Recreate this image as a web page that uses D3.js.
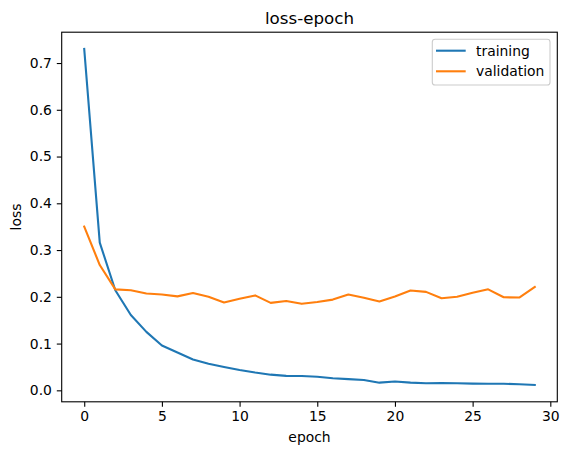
<!DOCTYPE html>
<html>
<head>
<meta charset="utf-8">
<script src="https://cdn.jsdelivr.net/npm/d3@7"></script>
<style>
body { margin: 0; background: #fff; }
svg { display: block; font-family: "DejaVu Sans", sans-serif; }
</style>
</head>
<body>
<svg></svg>
<script>
// loss values
var epochs = d3.range(0, 30);
var training = [0.730, 0.316, 0.214, 0.161, 0.125, 0.096, 0.081, 0.066, 0.057, 0.050,
	0.0435, 0.038, 0.0335, 0.031, 0.0305, 0.029, 0.0257, 0.024, 0.022, 0.0164,
	0.019, 0.0165, 0.015, 0.0155, 0.015, 0.0143, 0.014, 0.014, 0.013, 0.0114];
var validation = [0.350, 0.268, 0.216, 0.214, 0.207, 0.205, 0.201, 0.208, 0.200, 0.188,
	0.196, 0.203, 0.187, 0.191, 0.185, 0.189, 0.194, 0.205, 0.198, 0.190,
	0.2006, 0.2134, 0.2106, 0.197, 0.200, 0.2085, 0.216, 0.199, 0.1985, 0.221];
var xTicks = [0, 5, 10, 15, 20, 25, 30];
var yTicks = [0.0, 0.1, 0.2, 0.3, 0.4, 0.5, 0.6, 0.7];
var seriesNames = ['training', 'validation'];
var colors = ['#1f77b4', '#ff7f0e'];

// axes box (window.top is taken, so prefix everything)
var w = 569, h = 455,
	axL = 61.7, axR = 557.3, axT = 32.2, axB = 401.8,
	svg = d3.select('svg').attr('width', w).attr('height', h);

// matplotlib style 5% margins
function pad(ext) {
	var m = (ext[1] - ext[0]) * 0.05;
	return [ext[0] - m, ext[1] + m];
}
var allY = training.concat(validation);
var x = d3.scaleLinear().domain(pad(d3.extent(epochs))).range([axL, axR]);
var y = d3.scaleLinear().domain(pad(d3.extent(allY))).range([axB, axT]);

var xAxis = svg.append('g')
	.attr('transform', 'translate(0,' + axB + ')')
	.call(d3.axisBottom(x).tickValues(xTicks).tickSize(4.9).tickPadding(4.9).tickFormat(d3.format('d')));
var yAxis = svg.append('g')
	.attr('transform', 'translate(' + axL + ',0)')
	.call(d3.axisLeft(y).tickValues(yTicks).tickSize(4.9).tickPadding(4.9).tickFormat(d3.format('.1f')));
[xAxis, yAxis].forEach(function(a) {
	a.select('.domain').remove();
	a.selectAll('line').attr('stroke', '#000').attr('stroke-width', 1.1);
	a.selectAll('text').attr('font-size', 13.9).attr('fill', '#000')
		.attr('font-family', '"DejaVu Sans", sans-serif');
});

var line = d3.line().x(function(d, i) { return x(epochs[i]); }).y(function(d) { return y(d); });
[training, validation].forEach(function(s, i) {
	svg.append('path')
		.attr('d', line(s))
		.attr('fill', 'none')
		.attr('stroke', colors[i])
		.attr('stroke-width', 2.1)
		.attr('stroke-linejoin', 'round')
		.attr('stroke-linecap', 'square');
});

// frame
svg.append('rect')
	.attr('x', axL).attr('y', axT)
	.attr('width', axR - axL).attr('height', axB - axT)
	.attr('fill', 'none').attr('stroke', '#000').attr('stroke-width', 1.1);

svg.append('text')
	.attr('x', (axL + axR) / 2).attr('y', axT - 8.3)
	.attr('text-anchor', 'middle').attr('font-size', 16.7)
	.text('loss-epoch');
svg.append('text')
	.attr('x', (axL + axR) / 2).attr('y', 442)
	.attr('text-anchor', 'middle').attr('font-size', 13.9)
	.text('epoch');
svg.append('text')
	.attr('transform', 'translate(21,' + ((axT + axB) / 2) + ') rotate(-90)')
	.attr('text-anchor', 'middle').attr('font-size', 13.9)
	.text('loss');

// legend
var lg = svg.append('g');
lg.append('rect')
	.attr('x', 432.3).attr('y', 39.3).attr('width', 117.7).attr('height', 45.7)
	.attr('rx', 2.8)
	.attr('fill', '#fff').attr('fill-opacity', 0.8)
	.attr('stroke', '#ccc').attr('stroke-width', 1.1);
seriesNames.forEach(function(n, i) {
	var ly = 50.7 + i * 20.6;
	lg.append('line')
		.attr('x1', 436).attr('x2', 465.7).attr('y1', ly).attr('y2', ly)
		.attr('stroke', colors[i]).attr('stroke-width', 2.1);
	lg.append('text')
		.attr('x', 476).attr('y', ly + 5)
		.attr('font-size', 13.9)
		.text(n);
});
</script>
</body>
</html>
